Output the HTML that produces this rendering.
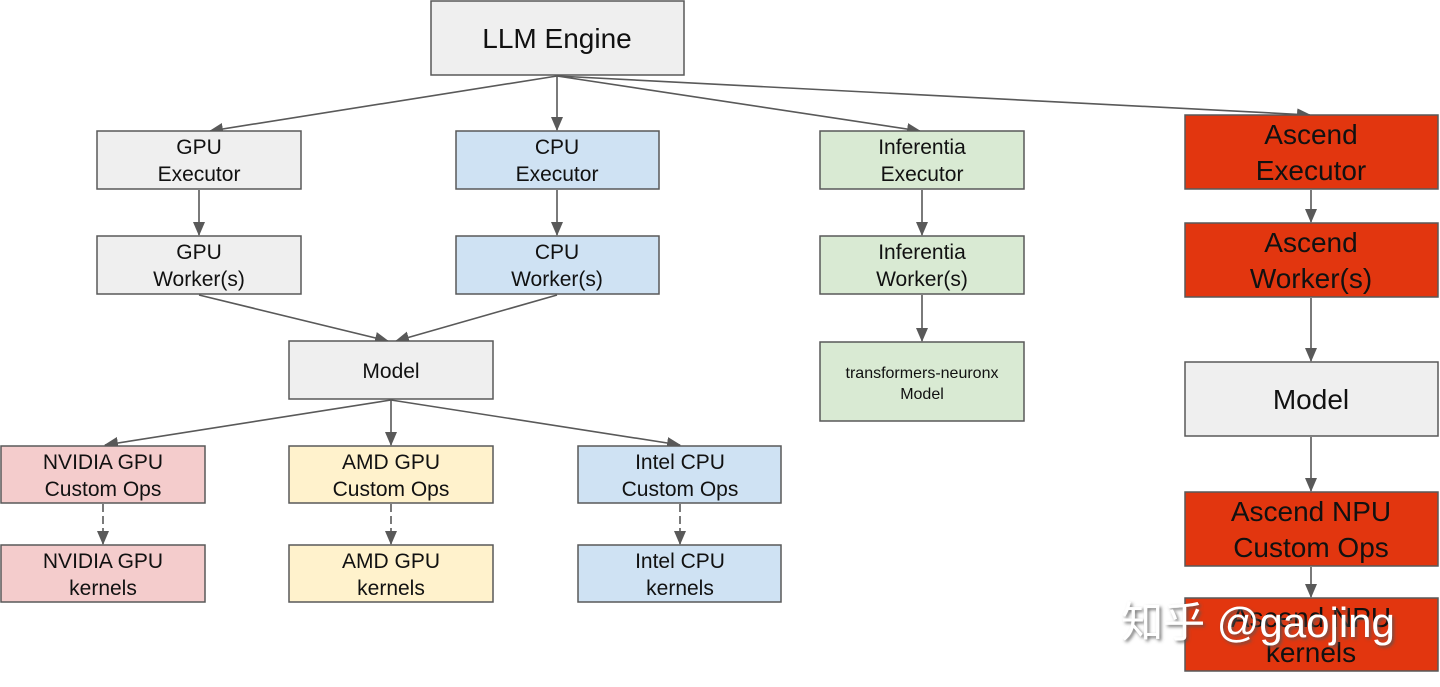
<!DOCTYPE html>
<html><head><meta charset="utf-8"><style>
html,body{margin:0;padding:0;background:#fff;width:1440px;height:687px;overflow:hidden}
text{font-family:"Liberation Sans","Noto Sans CJK SC",sans-serif;fill:#111;text-anchor:middle}
</style></head><body>
<svg width="1440" height="687" viewBox="0 0 1440 687" xmlns="http://www.w3.org/2000/svg">
<defs>
<marker id="a" markerWidth="14" markerHeight="12" refX="13" refY="6" orient="auto" markerUnits="userSpaceOnUse" viewBox="0 0 14 12"><path d="M0,0 L14,6 L0,12 z" fill="#595959"/></marker>
<filter id="sh"><feDropShadow dx="2" dy="2" stdDeviation="1.5" flood-color="#555" flood-opacity="0.8"/></filter>
</defs>
<g stroke="#595959" stroke-width="1.6" fill="none" marker-end="url(#a)">
<line x1="557" y1="76" x2="210" y2="131"/>
<line x1="557" y1="76" x2="557" y2="130"/>
<line x1="557" y1="76" x2="920" y2="131"/>
<line x1="557" y1="76" x2="1310" y2="115"/>
<line x1="199" y1="190" x2="199" y2="235"/>
<line x1="557" y1="190" x2="557" y2="235"/>
<line x1="922" y1="190" x2="922" y2="235"/>
<line x1="1311" y1="190" x2="1311" y2="222"/>
<line x1="199" y1="295" x2="388" y2="341"/>
<line x1="557" y1="295" x2="396" y2="341"/>
<line x1="922" y1="295" x2="922" y2="341"/>
<line x1="1311" y1="298" x2="1311" y2="361"/>
<line x1="391" y1="400" x2="105" y2="445"/>
<line x1="391" y1="400" x2="391" y2="445"/>
<line x1="391" y1="400" x2="680" y2="445"/>
<line x1="1311" y1="437" x2="1311" y2="491"/>
<line x1="1311" y1="567" x2="1311" y2="597"/>
<line x1="103" y1="504" x2="103" y2="544" stroke-dasharray="8,4"/>
<line x1="391" y1="504" x2="391" y2="544" stroke-dasharray="8,4"/>
<line x1="680" y1="504" x2="680" y2="544" stroke-dasharray="8,4"/>
</g>
<g stroke="#595959" stroke-width="1.5">
<rect x="431" y="1" width="253" height="74" fill="#efefef"/>
<rect x="97" y="131" width="204" height="58" fill="#efefef"/>
<rect x="456" y="131" width="203" height="58" fill="#cfe2f3"/>
<rect x="820" y="131" width="204" height="58" fill="#d9ead3"/>
<rect x="1185" y="115" width="253" height="74" fill="#e2360f"/>
<rect x="97" y="236" width="204" height="58" fill="#efefef"/>
<rect x="456" y="236" width="203" height="58" fill="#cfe2f3"/>
<rect x="820" y="236" width="204" height="58" fill="#d9ead3"/>
<rect x="1185" y="223" width="253" height="74" fill="#e2360f"/>
<rect x="289" y="341" width="204" height="58" fill="#efefef"/>
<rect x="820" y="342" width="204" height="79" fill="#d9ead3"/>
<rect x="1185" y="362" width="253" height="74" fill="#efefef"/>
<rect x="1" y="446" width="204" height="57" fill="#f4cccc"/>
<rect x="289" y="446" width="204" height="57" fill="#fff2cc"/>
<rect x="578" y="446" width="203" height="57" fill="#cfe2f3"/>
<rect x="1" y="545" width="204" height="57" fill="#f4cccc"/>
<rect x="289" y="545" width="204" height="57" fill="#fff2cc"/>
<rect x="578" y="545" width="203" height="57" fill="#cfe2f3"/>
<rect x="1185" y="492" width="253" height="74" fill="#e2360f"/>
<rect x="1185" y="598" width="253" height="73" fill="#e2360f"/>
</g>
<g font-size="28"><text x="557" y="48">LLM Engine</text>
<text x="1311" y="144">Ascend</text><text x="1311" y="180">Executor</text>
<text x="1311" y="252">Ascend</text><text x="1311" y="288">Worker(s)</text>
<text x="1311" y="409">Model</text>
<text x="1311" y="521">Ascend NPU</text><text x="1311" y="557">Custom Ops</text>
<text x="1311" y="627">Ascend NPU</text><text x="1311" y="662">kernels</text></g>
<g font-size="21">
<text x="199" y="154">GPU</text><text x="199" y="181">Executor</text>
<text x="557" y="154">CPU</text><text x="557" y="181">Executor</text>
<text x="922" y="154">Inferentia</text><text x="922" y="181">Executor</text>
<text x="199" y="259">GPU</text><text x="199" y="286">Worker(s)</text>
<text x="557" y="259">CPU</text><text x="557" y="286">Worker(s)</text>
<text x="922" y="259">Inferentia</text><text x="922" y="286">Worker(s)</text>
<text x="391" y="378">Model</text>
<text x="103" y="469">NVIDIA GPU</text><text x="103" y="496">Custom Ops</text>
<text x="391" y="469">AMD GPU</text><text x="391" y="496">Custom Ops</text>
<text x="680" y="469">Intel CPU</text><text x="680" y="496">Custom Ops</text>
<text x="103" y="568">NVIDIA GPU</text><text x="103" y="595">kernels</text>
<text x="391" y="568">AMD GPU</text><text x="391" y="595">kernels</text>
<text x="680" y="568">Intel CPU</text><text x="680" y="595">kernels</text>
</g>
<g font-size="16"><text x="922" y="378">transformers-neuronx</text><text x="922" y="399">Model</text></g>
<text x="1258" y="637" font-size="42" style="fill:#fff" filter="url(#sh)">知乎 @gaojing</text>
</svg>
</body></html>
